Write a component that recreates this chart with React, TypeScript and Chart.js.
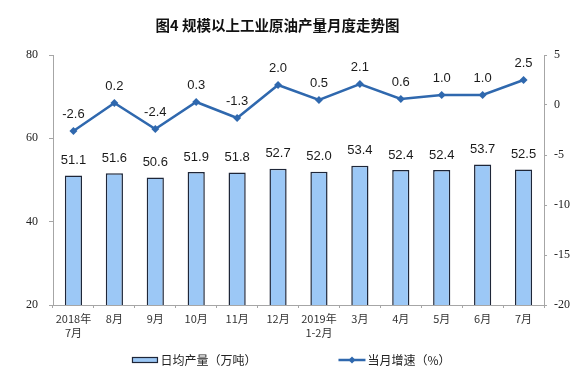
import React, { useEffect, useRef } from "react";
import { Chart, registerables } from "chart.js";

Chart.register(...registerables);

const categories: (string | string[])[] = [
  ["2018年", "7月"], "8月", "9月", "10月", "11月", "12月",
  ["2019年", "1-2月"], "3月", "4月", "5月", "6月", "7月",
];
const dailyOutput = [51.1, 51.6, 50.6, 51.9, 51.8, 52.7, 52.0, 53.4, 52.4, 52.4, 53.7, 52.5];
const monthlyGrowth = [-2.6, 0.2, -2.4, 0.3, -1.3, 2.0, 0.5, 2.1, 0.6, 1.0, 1.0, 2.5];
const leftTicks = [20, 40, 60, 80];
const rightTicks = [-20, -15, -10, -5, 0, 5];

const TITLE = "图4 规模以上工业原油产量月度走势图";
const BAR_LABEL = "日均产量（万吨）";
const LINE_LABEL = "当月增速（%）";

const BAR_FILL = "#9CC8F6";
const BAR_BORDER = "#1E2638";
const LINE_COLOR = "#2F68AE";
const AXIS_COLOR = "#A6A6A6";
const CJK = '"Noto Sans CJK SC", sans-serif';

const decorPlugin = {
  id: "decor",
  afterDatasetsDraw(chart: any) {
    const ctx = chart.ctx;
    ctx.save();
    ctx.fillStyle = "#1a1a1a";
    ctx.font = '13px "Liberation Sans", Arial, sans-serif';
    ctx.textAlign = "center";
    ctx.textBaseline = "middle";
    chart.data.datasets.forEach((ds: any, di: number) => {
      const meta = chart.getDatasetMeta(di);
      meta.data.forEach((el: any, i: number) => {
        const v = ds.data[i];
        const off = ds.type === "line" ? 17 : 15;
        ctx.fillText(v.toFixed(1), el.x, el.y - off);
      });
    });
    ctx.restore();
  },
  afterDraw(chart: any) {
    const ctx = chart.ctx;
    ctx.save();
    // title
    ctx.fillStyle = "#111";
    ctx.font = 'bold 14.5px ' + CJK;
    ctx.textAlign = "center";
    ctx.textBaseline = "middle";
    ctx.fillText(TITLE, chart.width / 2 - 14, 25);

    // legend
    ctx.font = '12px ' + CJK;
    ctx.textAlign = "left";
    const t1 = ctx.measureText(BAR_LABEL).width;
    const t2 = ctx.measureText(LINE_LABEL).width;
    const w1 = 25 + 3 + t1;
    const w2 = 27 + 2 + t2;
    const gap = 82;
    const total = w1 + gap + w2;
    let x = chart.width / 2 - total / 2;
    const y = 360;
    ctx.fillStyle = BAR_FILL;
    ctx.fillRect(x, y - 2.5, 25, 5);
    ctx.strokeStyle = BAR_BORDER;
    ctx.lineWidth = 1.2;
    ctx.strokeRect(x, y - 2.5, 25, 5);
    ctx.fillStyle = "#222";
    ctx.fillText(BAR_LABEL, x + 28, y);
    x += w1 + gap;
    ctx.strokeStyle = LINE_COLOR;
    ctx.lineWidth = 2.5;
    ctx.beginPath();
    ctx.moveTo(x, y);
    ctx.lineTo(x + 27, y);
    ctx.stroke();
    ctx.fillStyle = LINE_COLOR;
    ctx.beginPath();
    const cx = x + 13.5;
    ctx.moveTo(cx, y - 3.5);
    ctx.lineTo(cx + 3.5, y);
    ctx.lineTo(cx, y + 3.5);
    ctx.lineTo(cx - 3.5, y);
    ctx.closePath();
    ctx.fill();
    ctx.fillStyle = "#222";
    ctx.fillText(LINE_LABEL, x + 29, y);
    ctx.restore();
  },
};

export default function App() {
  const ref = useRef<HTMLCanvasElement | null>(null);
  useEffect(() => {
    if (!ref.current) return;
    const chart = new Chart(ref.current, {
      data: {
        labels: categories,
        datasets: [
          {
            type: "line",
            label: LINE_LABEL,
            data: monthlyGrowth,
            yAxisID: "y1",
            borderColor: LINE_COLOR,
            backgroundColor: LINE_COLOR,
            borderWidth: 2.5,
            pointStyle: "rectRot",
            pointRadius: 4,
            pointBorderWidth: 0,
            tension: 0,
            order: 0,
          },
          {
            type: "bar",
            label: BAR_LABEL,
            data: dailyOutput,
            yAxisID: "y",
            backgroundColor: BAR_FILL,
            borderColor: BAR_BORDER,
            borderWidth: 1.5,
            borderSkipped: false,
            categoryPercentage: 1,
            barPercentage: 0.42,
            order: 1,
          },
        ],
      } as any,
      options: {
        responsive: false,
        animation: false,
        layout: { padding: { top: 55, bottom: 24, left: 0, right: 0 } },
        plugins: {
          legend: { display: false },
          title: { display: false },
          tooltip: { enabled: false },
        },
        scales: {
          x: {
            offset: true,
            grid: {
              display: true,
              offset: true,
              drawOnChartArea: false,
              tickLength: 3,
              color: AXIS_COLOR,
            },
            border: { color: AXIS_COLOR, width: 1 },
            ticks: {
              color: "#333",
              font: { family: CJK, size: 11, lineHeight: 1.25 },
              padding: 4,
              maxRotation: 0,
              autoSkip: false,
            },
            afterFit: (s: any) => { s.height = 40; },
          },
          y: {
            position: "left",
            min: 20,
            max: 80,
            afterBuildTicks: (s: any) => { s.ticks = leftTicks.map((v) => ({ value: v })); },
            grid: { display: true, drawOnChartArea: false, tickLength: 4, color: AXIS_COLOR },
            border: { color: AXIS_COLOR, width: 1 },
            ticks: {
              color: "#222",
              font: { family: '"Liberation Serif", serif', size: 12 },
              padding: 11,
            },
            afterFit: (s: any) => { s.width = 53; },
          },
          y1: {
            position: "right",
            min: -20,
            max: 5,
            afterBuildTicks: (s: any) => { s.ticks = rightTicks.map((v) => ({ value: v })); },
            grid: { display: true, drawOnChartArea: false, tickLength: 3, color: AXIS_COLOR },
            border: { color: AXIS_COLOR, width: 1 },
            ticks: {
              color: "#222",
              font: { family: '"Liberation Serif", serif', size: 12 },
              padding: 7,
            },
            afterFit: (s: any) => { s.width = 39; },
          },
        },
      } as any,
      plugins: [decorPlugin],
    });
    return () => chart.destroy();
  }, []);
  return (
    <div style={{ position: "absolute", left: 0, top: 0, width: 583, height: 369, background: "#fff" }}>
      <canvas ref={ref} width={583} height={369} />
    </div>
  );
}
